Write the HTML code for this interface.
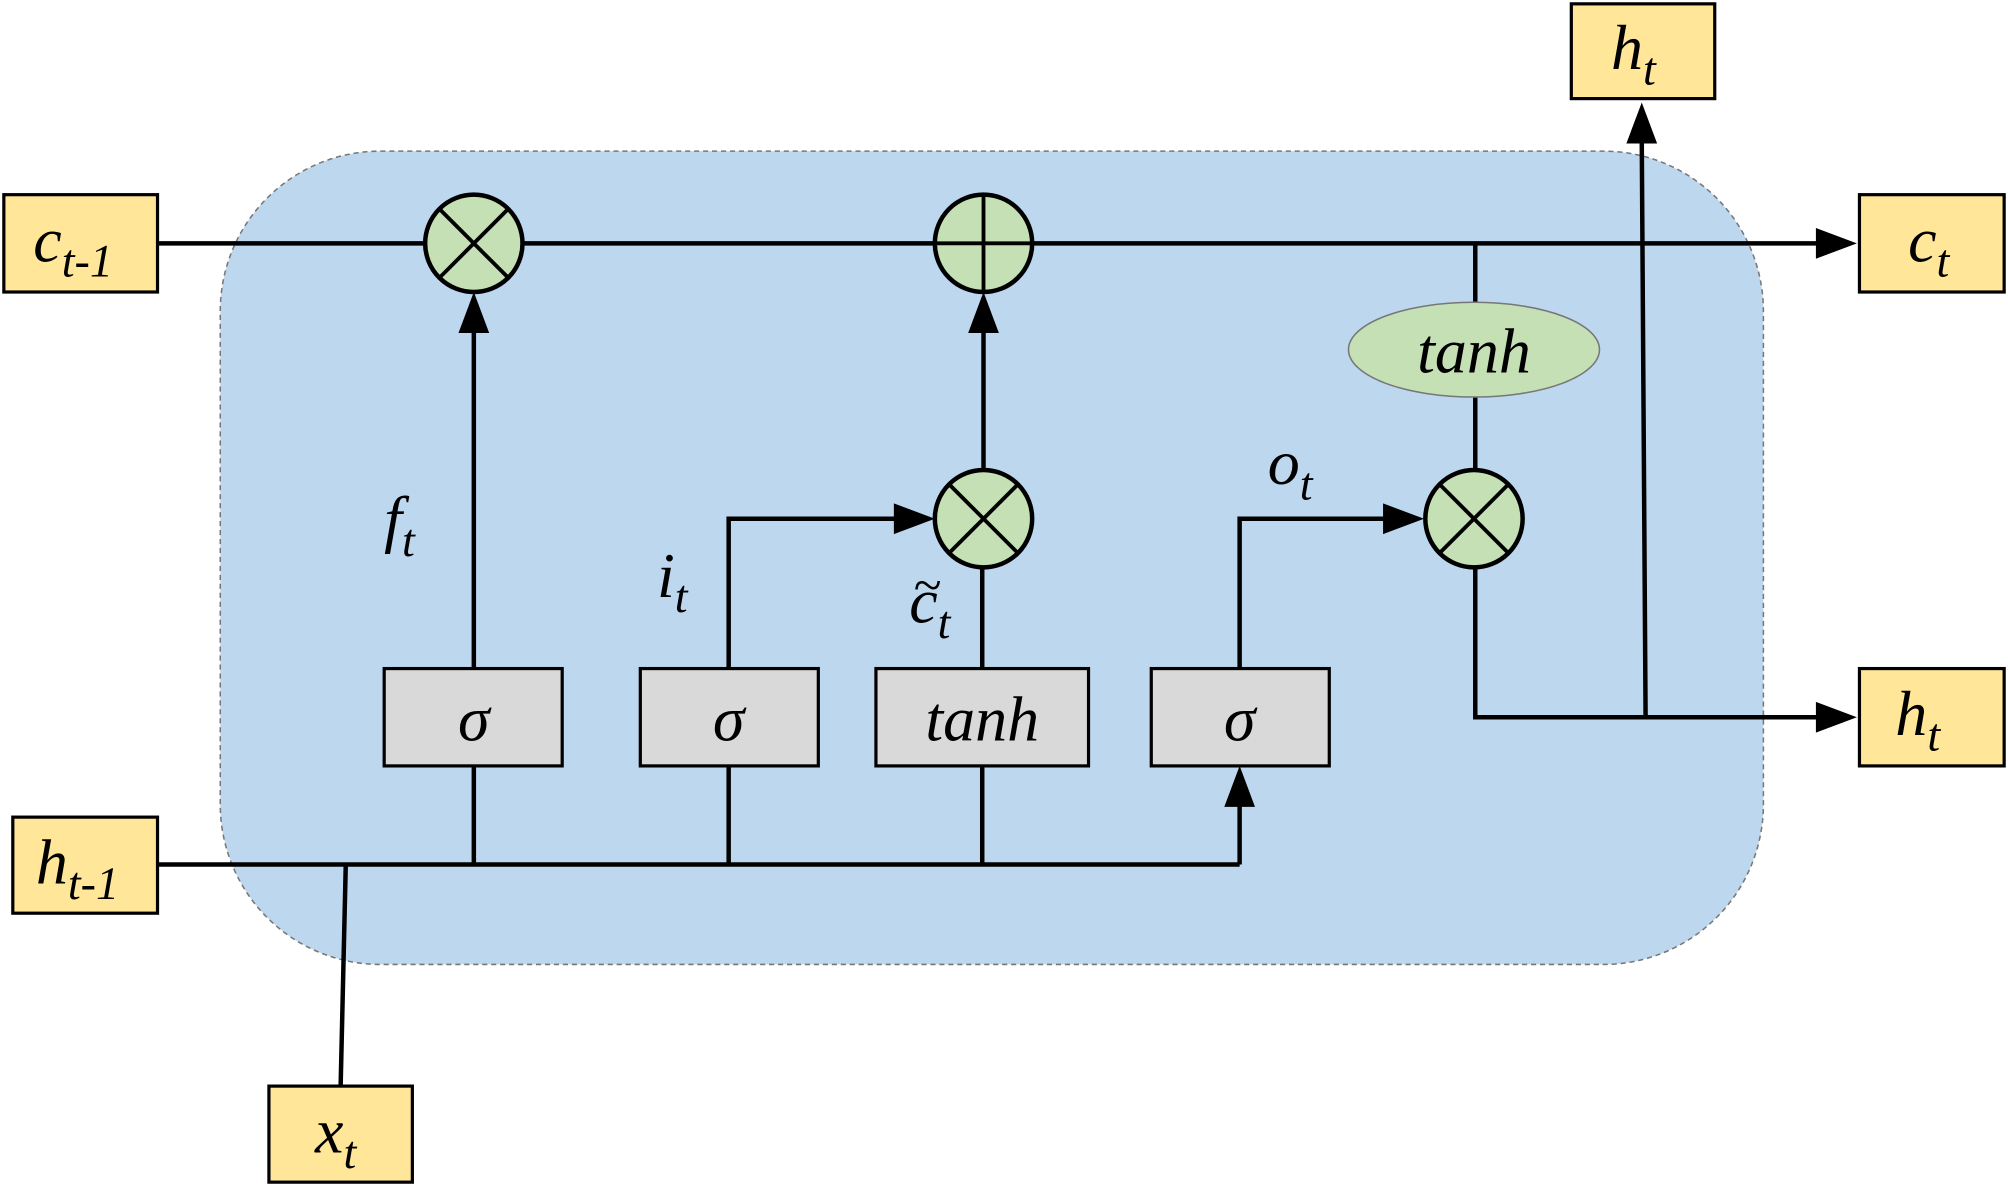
<!DOCTYPE html>
<html><head><meta charset="utf-8"><style>
html,body{margin:0;padding:0;background:#fff;}
svg{display:block;}
text{font-family:"Liberation Serif",serif;font-style:italic;fill:#000;}
</style></head><body>
<svg width="2008" height="1186" viewBox="0 0 1568 926" preserveAspectRatio="none" xmlns="http://www.w3.org/2000/svg">
<defs>
<marker id="a" markerWidth="10" markerHeight="10" refX="10" refY="5" orient="auto" markerUnits="userSpaceOnUse" viewBox="0 0 10 10">
</marker>
</defs>
<rect x="172" y="118" width="1205" height="635" rx="125" ry="125" fill="#bdd7ee" stroke="#777" stroke-width="1.2" stroke-dasharray="4,3"/>
<g stroke="#000" stroke-width="3.5" fill="none">
<!-- cell line -->
<line x1="123" y1="190" x2="1420" y2="190"/>
<line x1="1152" y1="190" x2="1152" y2="236"/>
<line x1="1152" y1="310" x2="1152" y2="367"/>
<polyline points="1152,443 1152,560 1420,560"/>
<line x1="1285" y1="560" x2="1282" y2="108"/>
<!-- gates -->
<line x1="370" y1="522" x2="370" y2="258"/>
<polyline points="569,522 569,405 700,405"/>
<line x1="767" y1="522" x2="767" y2="443"/>
<line x1="768" y1="367" x2="768" y2="258"/>
<polyline points="968,522 968,405 1082,405"/>
<!-- h_{t-1} line -->
<line x1="123" y1="675" x2="968" y2="675"/>
<line x1="968" y1="675" x2="968" y2="628"/>
<line x1="370" y1="598" x2="370" y2="675"/>
<line x1="569" y1="598" x2="569" y2="675"/>
<line x1="767" y1="598" x2="767" y2="675"/>
<line x1="266" y1="848" x2="270" y2="675"/>
</g>
<g fill="#000">
<polygon points="1450,190 1418,178 1418,202"/>
<polygon points="1450,560 1418,548 1418,572"/>
<polygon points="1282,80 1270,112 1294,112"/>
<polygon points="370,228 358,260 382,260"/>
<polygon points="768,228 756,260 780,260"/>
<polygon points="730,405 698,393 698,417"/>
<polygon points="1112,405 1080,393 1080,417"/>
<polygon points="968,598 956,630 980,630"/>
</g>
<!-- circles -->
<g stroke="#000" stroke-width="3.5" fill="#c5e0b4">
<ellipse cx="370" cy="190" rx="38" ry="38"/>
<ellipse cx="768" cy="190" rx="38" ry="38"/>
<ellipse cx="768" cy="405" rx="38" ry="38"/>
<ellipse cx="1151" cy="405" rx="38" ry="38"/>
</g>
<g stroke="#000" stroke-width="3">
<line x1="343" y1="163" x2="397" y2="217"/><line x1="397" y1="163" x2="343" y2="217"/>
<line x1="768" y1="152" x2="768" y2="228"/><line x1="730" y1="190" x2="806" y2="190"/>
<line x1="741" y1="378" x2="795" y2="432"/><line x1="795" y1="378" x2="741" y2="432"/>
<line x1="1124" y1="378" x2="1178" y2="432"/><line x1="1178" y1="378" x2="1124" y2="432"/>
</g>
<ellipse cx="1151" cy="273" rx="98" ry="37" fill="#c5e0b4" stroke="#777" stroke-width="1.2"/>
<text x="1151" y="291" font-size="50" text-anchor="middle">tanh</text>
<!-- gray boxes -->
<g fill="#d9d9d9" stroke="#000" stroke-width="2.5">
<rect x="300" y="522" width="139" height="76"/>
<rect x="500" y="522" width="139" height="76"/>
<rect x="684" y="522" width="166" height="76"/>
<rect x="899" y="522" width="139" height="76"/>
</g>
<g font-size="50" text-anchor="middle">
<text x="370" y="578">σ</text>
<text x="569" y="578">σ</text>
<text x="767" y="578">tanh</text>
<text x="968" y="578">σ</text>
</g>
<!-- yellow boxes -->
<g fill="#ffe699" stroke="#000" stroke-width="2.5">
<rect x="3" y="152" width="120" height="76"/>
<rect x="1452" y="152" width="113" height="76"/>
<rect x="1452" y="522" width="113" height="76"/>
<rect x="1227" y="3" width="112" height="74"/>
<rect x="10" y="638" width="113" height="75"/>
<rect x="210" y="848" width="112" height="75"/>
</g>
<g font-size="50">
<text x="26" y="204">c<tspan font-size="36" dy="12">t-1</tspan></text>
<text x="1490" y="204">c<tspan font-size="36" dy="12">t</tspan></text>
<text x="1480" y="574">h<tspan font-size="36" dy="12">t</tspan></text>
<text x="1258" y="54">h<tspan font-size="36" dy="12">t</tspan></text>
<text x="28" y="690">h<tspan font-size="36" dy="12">t-1</tspan></text>
<text x="246" y="900">x<tspan font-size="36" dy="12">t</tspan></text>
<text x="300" y="422">f<tspan font-size="36" dy="12">t</tspan></text>
<text x="513" y="466">i<tspan font-size="36" dy="12">t</tspan></text>
<text x="710" y="486">c<tspan font-size="36" dy="12">t</tspan></text>
<text x="713" y="470" font-size="40">~</text>
<text x="990" y="378">o<tspan font-size="36" dy="12">t</tspan></text>
</g>
</svg>
</body></html>
